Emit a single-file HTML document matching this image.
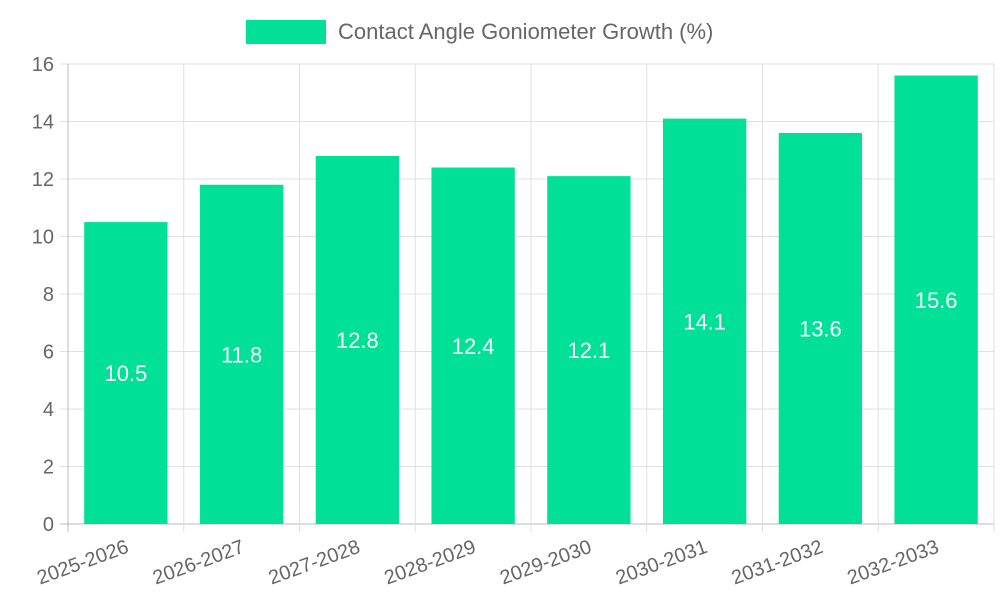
<!DOCTYPE html>
<html><head><meta charset="utf-8"><style>
body{margin:0;background:#fff;}
svg{display:block;font-family:"Liberation Sans",sans-serif;}
</style></head><body>
<svg id="chart" width="1000" height="600">
<g id="legend">
<rect x="246" y="20" width="80" height="24" fill="#00e096"></rect>
<text x="338" y="39" font-size="22" fill="#666">Contact Angle Goniometer Growth (%)</text>
</g>
<g id="grid"></g>
<g id="bars"></g>
<g id="axes"></g>
</svg>
<script>
const categories=["2025-2026","2026-2027","2027-2028","2028-2029","2029-2030","2030-2031","2031-2032","2032-2033"];
const values=[10.5,11.8,12.8,12.4,12.1,14.1,13.6,15.6];
const yTicks=[0,2,4,6,8,10,12,14,16];
const NS="http://www.w3.org/2000/svg";
const L=68,R=994,T=64,B=524,yMax=16;
const band=(R-L)/categories.length;
const y=v=>B-(v/yMax)*(B-T);
const x=i=>L+band*i;
function mk(tag,attrs,parent){const e=document.createElementNS(NS,tag);for(const k in attrs)e.setAttribute(k,attrs[k]);parent.appendChild(e);return e;}
const grid=document.getElementById('grid'),bars=document.getElementById('bars'),axes=document.getElementById('axes');
yTicks.forEach(t=>{
 const g=mk('line',{x1:L-8,x2:R,y1:y(t),y2:y(t),stroke:t===0?'#bbb':'#e0e0e0','stroke-width':1},grid);
 
 
 const tx=mk('text',{x:L-14,y:y(t)+7,'text-anchor':'end','font-size':20,fill:'#666'},axes);
 tx.textContent=t;
 
 
});
for(let i=0;i<=categories.length;i++){
 const g=mk('line',{x1:x(i),x2:x(i),y1:T,y2:B+8,stroke:i===0?'#bbb':'#e0e0e0','stroke-width':1},grid);
 
 
}
categories.forEach((c,i)=>{
 const v=values[i];const bw=band*0.72;const bx=x(i)+(band-bw)/2;
 const r=mk('rect',{x:bx,y:y(v),width:bw,height:B-y(v),fill:'#00e096'},bars);
 
 
 const vl=mk('text',{x:x(i)+band/2,y:(y(v)+B)/2+8,'text-anchor':'middle','font-size':22,fill:'#fff'},bars);
 vl.textContent=v;
 
 
 const cx=x(i)+band/2+4,cy=B+28;
 const tl=mk('text',{x:cx,y:cy,'text-anchor':'end','font-size':20,fill:'#666',transform:`rotate(-20 ${cx} ${cy})`},axes);
 tl.textContent=c;
 
 
});
</script>
</body></html>
